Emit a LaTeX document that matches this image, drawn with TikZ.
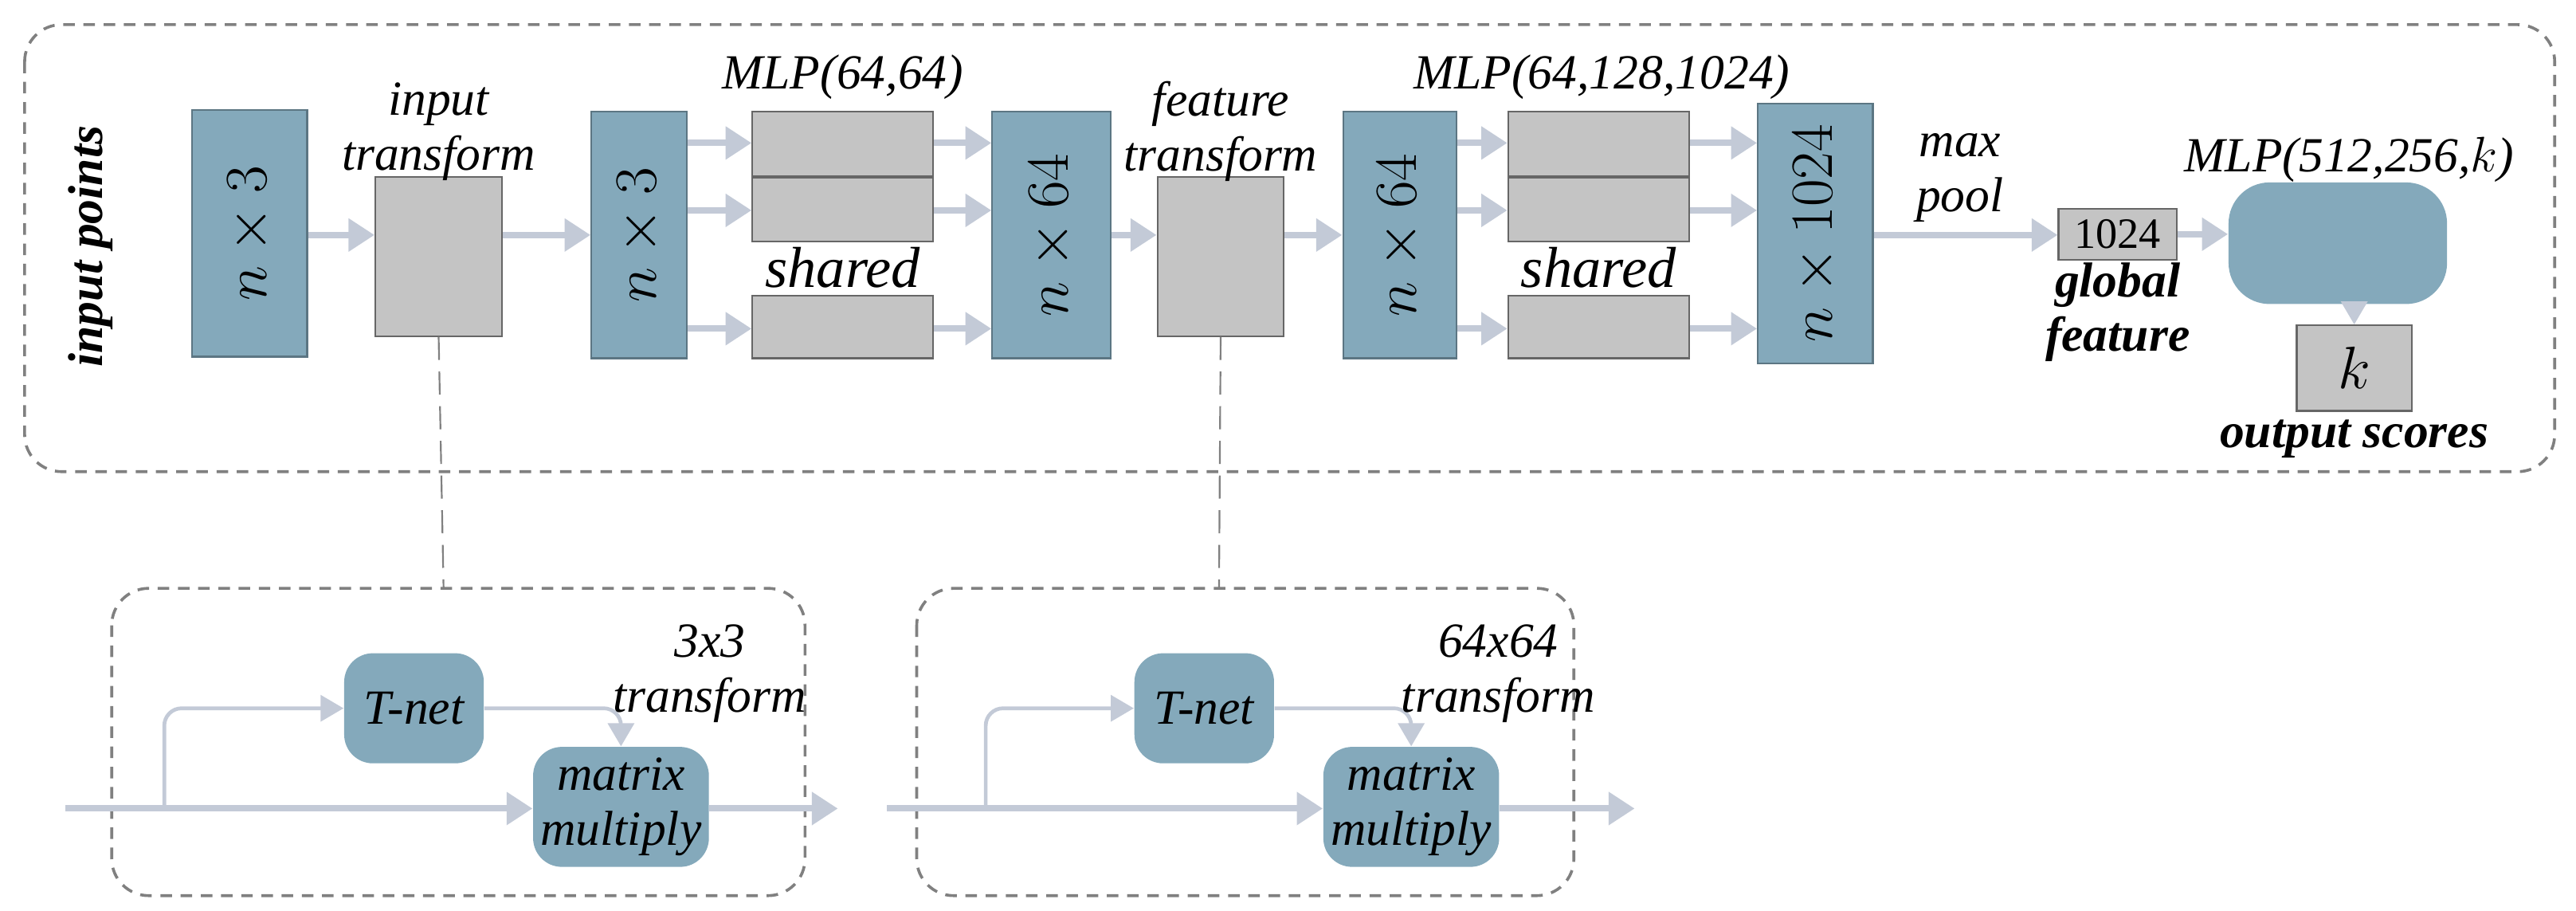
\documentclass[tikz,border=0pt]{standalone}
\usepackage{fontspec}
\setmainfont{Liberation Serif}
\usetikzlibrary{arrows.meta}
\definecolor{teal1}{HTML}{84A9BB}
\definecolor{gr}{HTML}{C4C4C4}
\definecolor{arr}{HTML}{C3CAD7}
\begin{document}
\begin{tikzpicture}[x=0.02cm,y=-0.02cm,
 blue/.style={draw=teal1!70!black,fill=teal1,line width=0.6pt,inner sep=0},
 grey/.style={draw=gray!80!black,fill=gr,line width=0.6pt,inner sep=0},
 rblue/.style={fill=teal1,rounded corners=0.35cm,inner sep=0},
 ar/.style={draw=arr,line width=2.2pt,-{Triangle[length=9pt,width=11pt]}},
 ar2/.style={draw=arr,line width=1.3pt,-{Triangle[length=8pt,width=9pt]}},
 dbox/.style={draw=gray,dashed,line width=1pt,dash pattern=on 4pt off 3pt,rounded corners=0.45cm},
 lab/.style={font=\fontsize{17}{19}\selectfont\itshape,align=center},
 blab/.style={font=\fontsize{17}{19}\selectfont\bfseries\itshape,align=center}]
\useasboundingbox (0,0) rectangle (1568,554);
\draw[dbox] (15,15) rectangle (1555,287);
\node[blab,rotate=90] (ip) at (55,150) {input points};
% boxes
\node[blue,minimum width=70*0.02cm,minimum height=150*0.02cm] (b1) at (152,142) {};
\node[lab,rotate=90] at (b1) {\fontsize{20}{22}\selectfont $n\times3$};
\node[grey,minimum width=77*0.02cm,minimum height=97*0.02cm] (it) at (267,156) {};
\node[lab] (itl) at (267,80) {input\\transform};
\node[blue,minimum width=58*0.02cm,minimum height=150*0.02cm] (b2) at (389,143) {};
\node[lab,rotate=90] at (b2) {\fontsize{20}{22}\selectfont $n\times3$};
\node[grey,minimum width=110*0.02cm,minimum height=39*0.02cm] (m1) at (513,87.5) {};
\node[grey,minimum width=110*0.02cm,minimum height=39*0.02cm] (m2) at (513,127.5) {};
\node[grey,minimum width=110*0.02cm,minimum height=38*0.02cm] (m3) at (513,199) {};
\node[lab] at (513,163) {\fontsize{20}{22}\selectfont shared};
\node[lab] at (513,47) {MLP(64,64)};
\node[blue,minimum width=72*0.02cm,minimum height=150*0.02cm] (b3) at (640,143) {};
\node[lab,rotate=90] at (b3) {\fontsize{20}{22}\selectfont $n\times64$};
\node[grey,minimum width=77*0.02cm,minimum height=97*0.02cm] (ft) at (743,156) {};
\node[lab] (ftl) at (743,80) {feature\\transform};
\node[blue,minimum width=69*0.02cm,minimum height=150*0.02cm] (b4) at (852,143) {};
\node[lab,rotate=90] at (b4) {\fontsize{20}{22}\selectfont $n\times64$};
\node[grey,minimum width=110*0.02cm,minimum height=39*0.02cm] (n1) at (973,87.5) {};
\node[grey,minimum width=110*0.02cm,minimum height=39*0.02cm] (n2) at (973,127.5) {};
\node[grey,minimum width=110*0.02cm,minimum height=38*0.02cm] (n3) at (973,199) {};
\node[lab] at (973,163) {\fontsize{20}{22}\selectfont shared};
\node[lab] at (975,47) {MLP(64,128,1024)};
\node[blue,minimum width=70*0.02cm,minimum height=158*0.02cm] (b5) at (1105,142) {};
\node[lab,rotate=90] at (b5) {\fontsize{20}{22}\selectfont $n\times1024$};
\node[lab] at (1193,108) {max\\pool};
\node[grey,minimum width=72*0.02cm,minimum height=31*0.02cm,font=\fontsize{15}{17}\selectfont] (gf) at (1289,142.5) {1024};
\node[blab] at (1289,190) {global\\feature};
\node[rblue,rounded corners=0.5cm,minimum width=133*0.02cm,minimum height=74*0.02cm] (mlp) at (1423,148) {};
\node[lab] at (1430,97) {MLP(512,256,$k$)};
\node[grey,minimum width=70*0.02cm,minimum height=52*0.02cm,font=\fontsize{20}{22}\selectfont] (k) at (1433,224) {$k$};
\node[blab] at (1433,267) {output scores};
% arrows
\draw[ar] (b1.east|-0,143) -- (it.west|-0,143);
\draw[ar] (it.east|-0,143) -- (b2.west|-0,143);
\foreach \y/\m in {87/m1,128/m2,200/m3}{
 \draw[ar] (b2.east|-0,\y) -- (\m.west|-0,\y);
 \draw[ar] (\m.east|-0,\y) -- (b3.west|-0,\y);}
\draw[ar] (b3.east|-0,143) -- (ft.west|-0,143);
\draw[ar] (ft.east|-0,143) -- (b4.west|-0,143);
\foreach \y/\m in {87/n1,128/n2,200/n3}{
 \draw[ar] (b4.east|-0,\y) -- (\m.west|-0,\y);
 \draw[ar] (\m.east|-0,\y) -- (b5.west|-0,\y);}
\draw[ar] (b5.east|-0,143) -- (gf.west|-0,143);
\draw[ar] (gf.east) -- (mlp.west|-gf.east);
\draw[ar2] (mlp.south-|k) -- (k.north);
% lower boxes
\draw[dbox] (68,358) rectangle (490,545);
\draw[dbox] (558,358) rectangle (958,545);
\coordinate (d1) at (270,358); \coordinate (d2) at (742,358);
\draw[gray,line width=0.6pt,dash pattern=on 8pt off 4pt] (it.south) -- (d1);
\draw[gray,line width=0.6pt,dash pattern=on 8pt off 4pt] (ft.south) -- (d2);
\foreach \i/\xl/\xr/\tx/\mx/\lx/\tl in {1/40/510/252/378/432/3x3, 2/540/995/733/859/912/64x64}{
 \node[rblue,minimum width=85*0.02cm,minimum height=67*0.02cm,lab] (tn\i) at (\tx,431) {T-net};
 \node[rblue,minimum width=107*0.02cm,minimum height=73*0.02cm,lab] (mm\i) at (\mx,491) {matrix\\multiply};
 \coordinate (s\i) at (\xl,492); \coordinate (e\i) at (\xr,492);
 \coordinate (br\i) at (\xl+60,492);
 \draw[draw=arr,line width=2.2pt] (s\i) -- (br\i);
 \draw[ar] (br\i) -- (mm\i.west|-br\i);
 \draw[ar] (mm\i.east|-br\i) -- (e\i);
 \draw[ar2,rounded corners=6pt] (br\i) -- (br\i|-tn\i.west) -- (tn\i.west);
 \draw[ar2,rounded corners=6pt] (tn\i.east) -- (mm\i.north|-tn\i.east) -- (mm\i.north);
 \node[lab,inner sep=0pt] (tl\i) at (\lx,410) {\tl\\transform};
}
\end{tikzpicture}
\end{document}
